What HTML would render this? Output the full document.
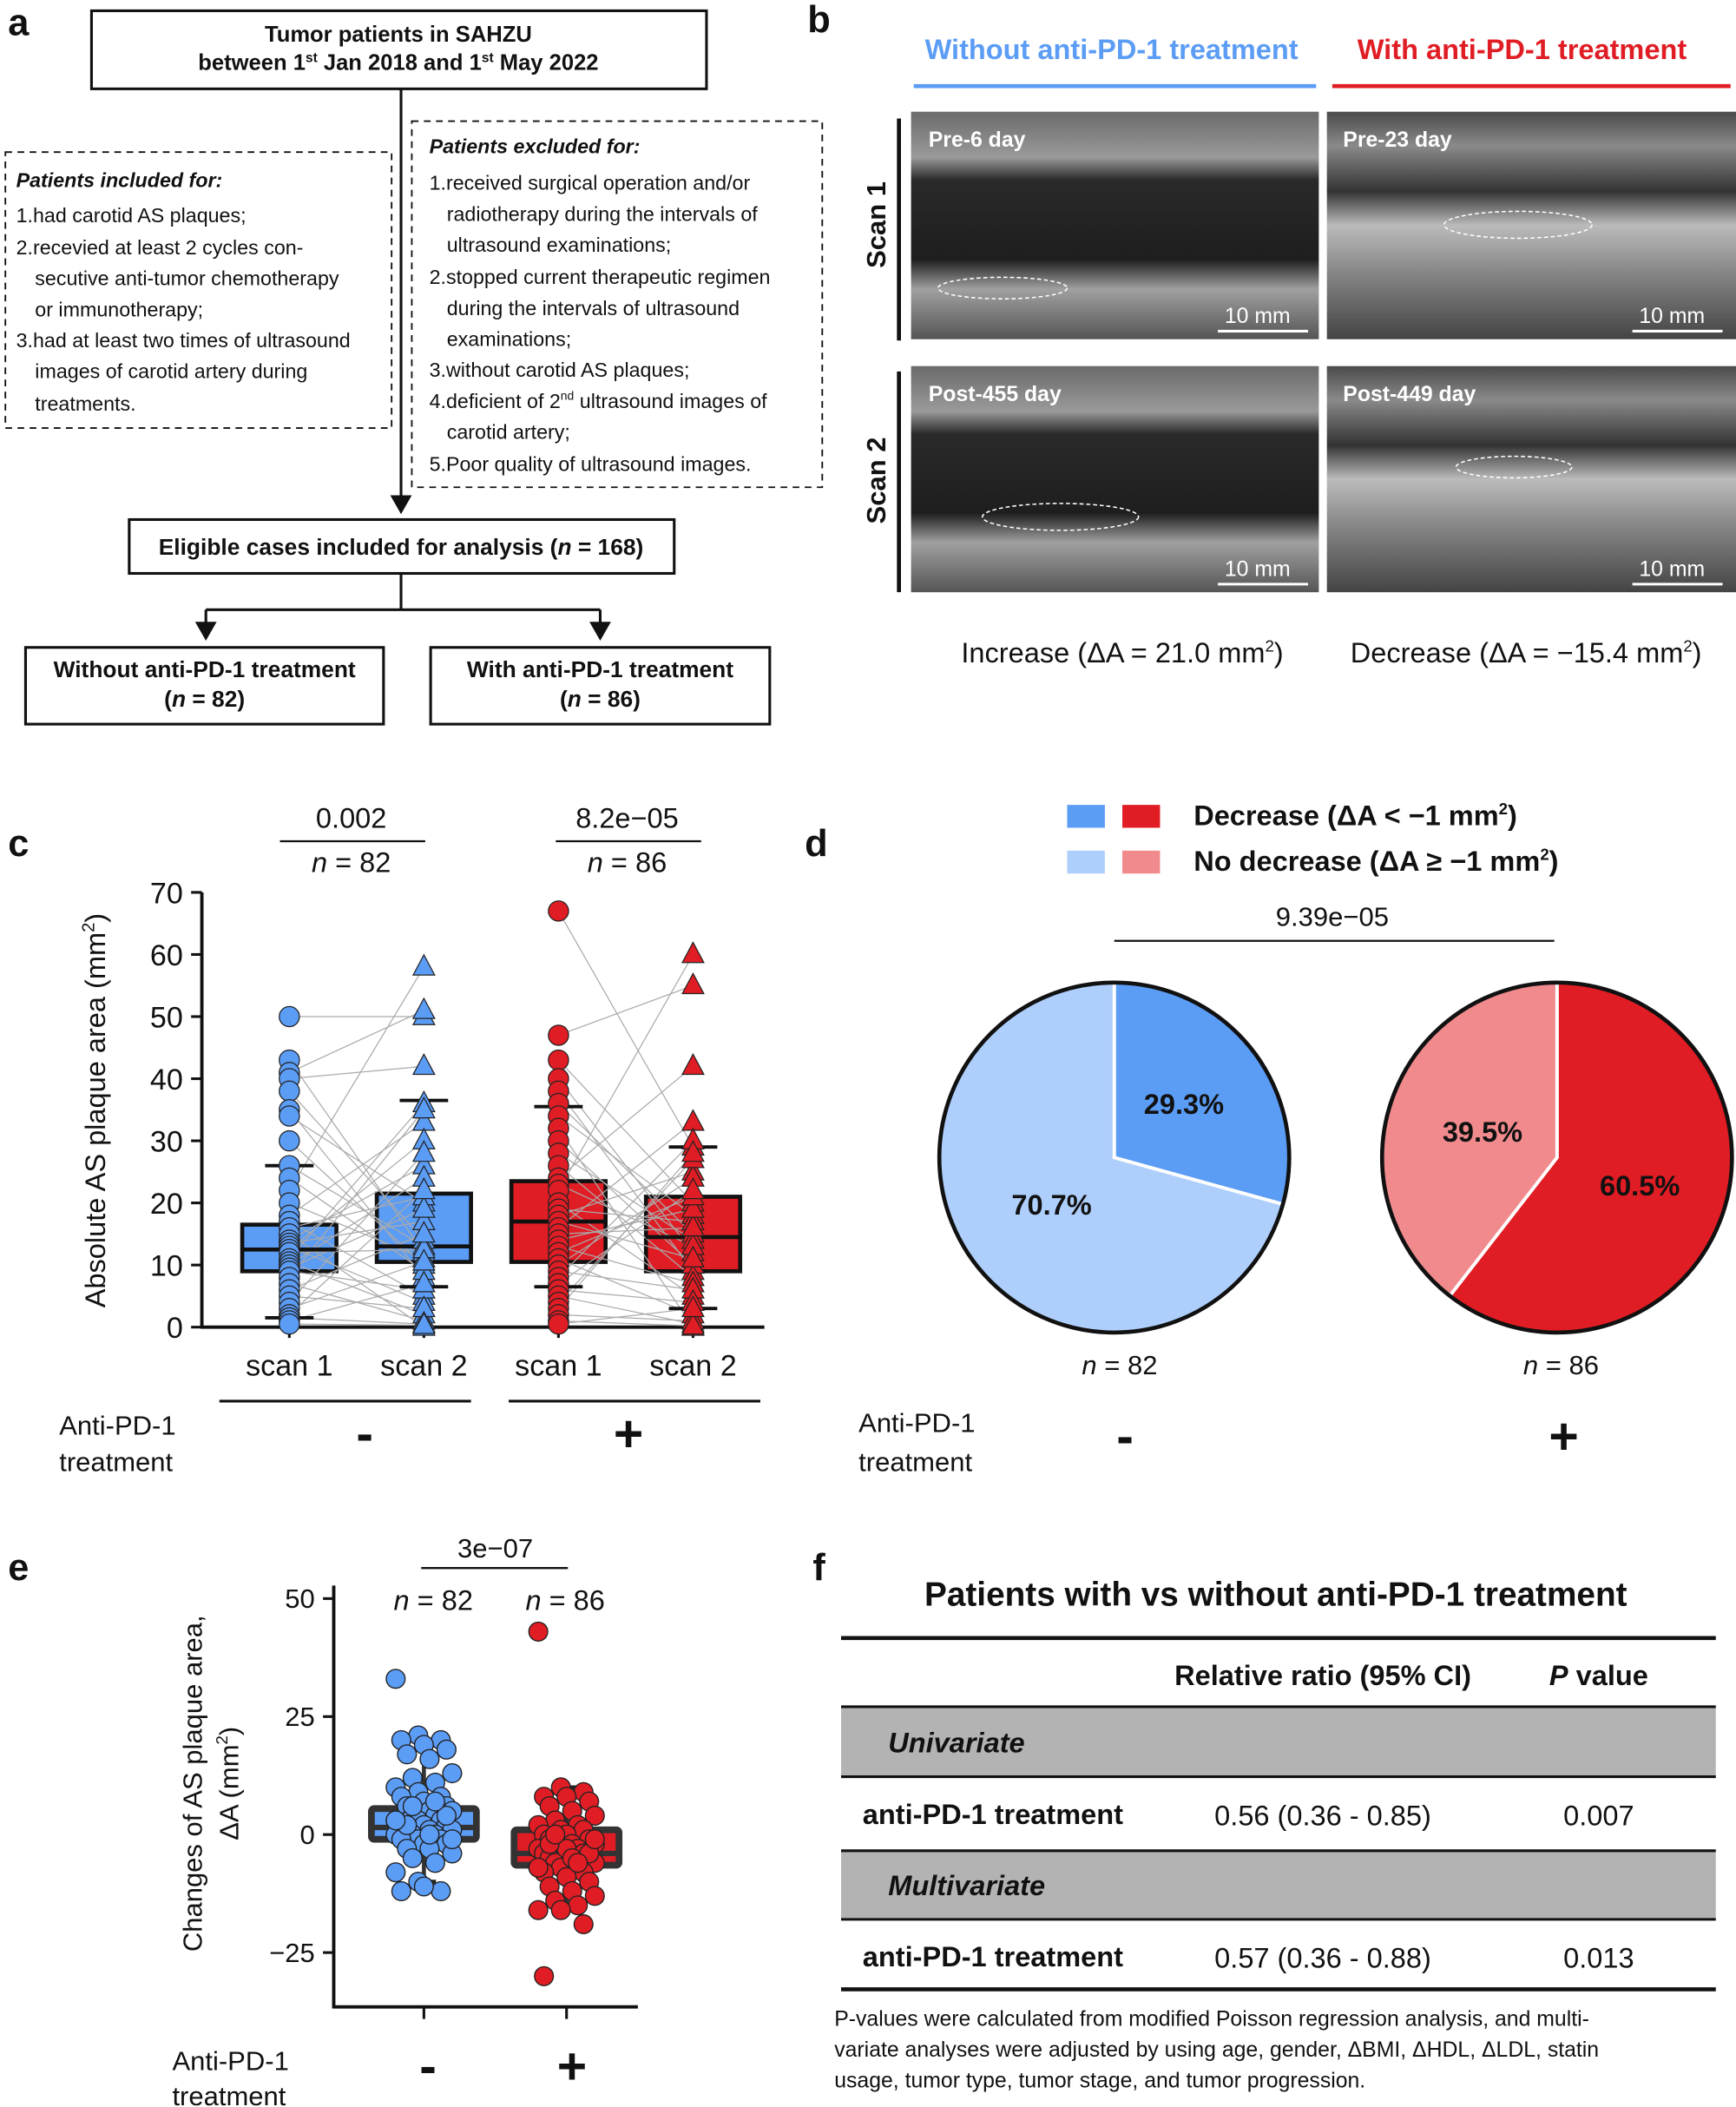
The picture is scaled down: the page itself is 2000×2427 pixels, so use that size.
<!DOCTYPE html>
<html><head><meta charset="utf-8"><style>
html,body{margin:0;padding:0;background:#fff}
svg{display:block}
text{font-family:"Liberation Sans",Arial,sans-serif;fill:#111}
</style></head><body>
<svg id="fig" width="2000" height="2427" viewBox="0 0 1290 1565.4" xmlns="http://www.w3.org/2000/svg">
<defs>
<linearGradient id="us1" x1="0" y1="0" x2="0" y2="1">
<stop offset="0" stop-color="#6a6a6a"/><stop offset="0.2" stop-color="#9a9a9a"/><stop offset="0.3" stop-color="#2a2a2a"/><stop offset="0.65" stop-color="#1e1e1e"/><stop offset="0.78" stop-color="#a0a0a0"/><stop offset="1" stop-color="#555"/></linearGradient>
<linearGradient id="us2" x1="0" y1="0" x2="0" y2="1">
<stop offset="0" stop-color="#4a4a4a"/><stop offset="0.15" stop-color="#8a8a8a"/><stop offset="0.35" stop-color="#333"/><stop offset="0.5" stop-color="#bbb"/><stop offset="0.7" stop-color="#888"/><stop offset="1" stop-color="#444"/></linearGradient>
</defs>

<!-- Panel a -->
<g>
<text x="6" y="26" font-size="28" font-weight="bold">a</text>
<rect x="68" y="8" width="457" height="58" fill="none" stroke="#111" stroke-width="2"/>
<text x="296" y="31" font-size="16.5" font-weight="bold" text-anchor="middle">Tumor patients in SAHZU</text>
<text x="296" y="52" font-size="16.5" font-weight="bold" text-anchor="middle">between 1<tspan font-size="10" dy="-6">st</tspan><tspan dy="6">  Jan 2018 and 1</tspan><tspan font-size="10" dy="-6">st</tspan><tspan dy="6">  May 2022</tspan></text>
<line x1="298" y1="66" x2="298" y2="372" stroke="#111" stroke-width="2"/>
<polygon points="290,368 306,368 298,382" fill="#111"/>
<rect x="4" y="113" width="287" height="205" fill="none" stroke="#111" stroke-width="1.2" stroke-dasharray="5,4"/>
<g font-size="15">
<text x="12" y="139" font-weight="bold" font-style="italic">Patients included for:</text>
<text x="12" y="165">1.had carotid AS plaques;</text>
<text x="12" y="189">2.recevied at least 2 cycles con-</text>
<text x="26" y="212">secutive anti-tumor chemotherapy</text>
<text x="26" y="235">or immunotherapy;</text>
<text x="12" y="258">3.had at least two times of ultrasound</text>
<text x="26" y="281">images of carotid artery during</text>
<text x="26" y="305">treatments.</text>
</g>
<rect x="306" y="90" width="305" height="272" fill="none" stroke="#111" stroke-width="1.2" stroke-dasharray="5,4"/>
<g font-size="15">
<text x="319" y="114" font-weight="bold" font-style="italic">Patients excluded for:</text>
<text x="319" y="141">1.received surgical operation and/or</text>
<text x="332" y="164">radiotherapy during the intervals of</text>
<text x="332" y="187">ultrasound examinations;</text>
<text x="319" y="211">2.stopped current therapeutic regimen</text>
<text x="332" y="234">during the intervals of ultrasound</text>
<text x="332" y="257">examinations;</text>
<text x="319" y="280">3.without carotid AS plaques;</text>
<text x="319" y="303">4.deficient of 2<tspan font-size="9" dy="-6">nd</tspan><tspan dy="6"> ultrasound images of</tspan></text>
<text x="332" y="326">carotid artery;</text>
<text x="319" y="350">5.Poor quality of ultrasound images.</text>
</g>
<rect x="96" y="386" width="405" height="40" fill="none" stroke="#111" stroke-width="2"/>
<text x="298" y="412" font-size="17" font-weight="bold" text-anchor="middle">Eligible cases included for analysis (<tspan font-style="italic">n</tspan> = 168)</text>
<line x1="298" y1="426" x2="298" y2="453" stroke="#111" stroke-width="2"/>
<line x1="153" y1="453" x2="446" y2="453" stroke="#111" stroke-width="2"/>
<line x1="153" y1="453" x2="153" y2="465" stroke="#111" stroke-width="2"/>
<line x1="446" y1="453" x2="446" y2="465" stroke="#111" stroke-width="2"/>
<polygon points="145,462 161,462 153,476" fill="#111"/>
<polygon points="438,462 454,462 446,476" fill="#111"/>
<rect x="19" y="481" width="266" height="57" fill="none" stroke="#111" stroke-width="2"/>
<text x="152" y="503" font-size="17" font-weight="bold" text-anchor="middle">Without anti-PD-1 treatment</text>
<text x="152" y="525" font-size="17" font-weight="bold" text-anchor="middle">(<tspan font-style="italic">n</tspan> = 82)</text>
<rect x="320" y="481" width="252" height="57" fill="none" stroke="#111" stroke-width="2"/>
<text x="446" y="503" font-size="17" font-weight="bold" text-anchor="middle">With anti-PD-1 treatment</text>
<text x="446" y="525" font-size="17" font-weight="bold" text-anchor="middle">(<tspan font-style="italic">n</tspan> = 86)</text>
</g>

<!-- Panel b -->
<g>
<text x="600" y="24" font-size="28" font-weight="bold">b</text>
<text x="826" y="44" font-size="21" font-weight="bold" text-anchor="middle" style="fill:#5b9cf5">Without anti-PD-1 treatment</text>
<text x="1131" y="44" font-size="21" font-weight="bold" text-anchor="middle" style="fill:#e01d24">With anti-PD-1 treatment</text>
<line x1="679" y1="64" x2="978" y2="64" stroke="#5b9cf5" stroke-width="3"/>
<line x1="990" y1="64" x2="1286" y2="64" stroke="#e01d24" stroke-width="3"/>
<text transform="translate(658,167) rotate(-90)" font-size="20" font-weight="bold" text-anchor="middle">Scan 1</text>
<text transform="translate(658,357) rotate(-90)" font-size="20" font-weight="bold" text-anchor="middle">Scan 2</text>
<line x1="668" y1="88" x2="668" y2="253" stroke="#111" stroke-width="3"/>
<line x1="668" y1="276" x2="668" y2="440" stroke="#111" stroke-width="3"/>
<rect x="677" y="83" width="303" height="169" fill="url(#us1)"/>
<rect x="986" y="83" width="304" height="169" fill="url(#us2)"/>
<rect x="677" y="272" width="303" height="168" fill="url(#us1)"/>
<rect x="986" y="272" width="304" height="168" fill="url(#us2)"/>
<ellipse cx="745" cy="214" rx="48" ry="8" fill="none" stroke="#fff" stroke-dasharray="3,2"/>
<ellipse cx="1128" cy="167" rx="55" ry="10" fill="none" stroke="#fff" stroke-dasharray="3,2"/>
<ellipse cx="788" cy="384" rx="58" ry="10" fill="none" stroke="#fff" stroke-dasharray="3,2"/>
<ellipse cx="1125" cy="347" rx="43" ry="8" fill="none" stroke="#fff" stroke-dasharray="3,2"/>
<g font-size="16" font-weight="bold">
<text x="690" y="109" style="fill:#fff">Pre-6 day</text>
<text x="998" y="109" style="fill:#fff">Pre-23 day</text>
<text x="690" y="298" style="fill:#fff">Post-455 day</text>
<text x="998" y="298" style="fill:#fff">Post-449 day</text>
</g>
<g font-size="16">
<text x="910" y="240" style="fill:#fff">10 mm</text><line x1="905" y1="246" x2="972" y2="246" stroke="#fff" stroke-width="2"/>
<text x="1218" y="240" style="fill:#fff">10 mm</text><line x1="1213" y1="246" x2="1280" y2="246" stroke="#fff" stroke-width="2"/>
<text x="910" y="428" style="fill:#fff">10 mm</text><line x1="905" y1="434" x2="972" y2="434" stroke="#fff" stroke-width="2"/>
<text x="1218" y="428" style="fill:#fff">10 mm</text><line x1="1213" y1="434" x2="1280" y2="434" stroke="#fff" stroke-width="2"/>
</g>
<text x="834" y="492" font-size="21" text-anchor="middle">Increase (ΔA = 21.0 mm<tspan font-size="12" dy="-8">2</tspan><tspan dy="8">)</tspan></text>
<text x="1134" y="492" font-size="21" text-anchor="middle">Decrease (ΔA = −15.4 mm<tspan font-size="12" dy="-8">2</tspan><tspan dy="8">)</tspan></text>
</g>

<!-- Panel c -->
<g id="panelC">
<text x="6" y="636" font-size="28" font-weight="bold">c</text>
<text x="261" y="615" font-size="21" text-anchor="middle">0.002</text>
<line x1="208" y1="625" x2="316" y2="625" stroke="#111" stroke-width="1.5"/>
<text x="261" y="648" font-size="21" text-anchor="middle"><tspan font-style="italic">n</tspan> = 82</text>
<text x="466" y="615" font-size="21" text-anchor="middle">8.2e−05</text>
<line x1="413" y1="625" x2="521" y2="625" stroke="#111" stroke-width="1.5"/>
<text x="466" y="648" font-size="21" text-anchor="middle"><tspan font-style="italic">n</tspan> = 86</text>
<text transform="translate(78,825) rotate(-90)" font-size="21" text-anchor="middle">Absolute AS plaque area (mm<tspan font-size="13" dy="-8">2</tspan><tspan dy="8">)</tspan></text>
<g id="cAxis"></g><g id="cMarks"></g>
<g font-size="22" text-anchor="middle">
<text x="215" y="1022">scan 1</text><text x="315" y="1022">scan 2</text>
<text x="415" y="1022">scan 1</text><text x="515" y="1022">scan 2</text>
</g>
<line x1="163" y1="1041" x2="350" y2="1041" stroke="#111" stroke-width="2"/>
<line x1="378" y1="1041" x2="565" y2="1041" stroke="#111" stroke-width="2"/>
<text x="44" y="1066" font-size="20">Anti-PD-1</text>
<text x="44" y="1093" font-size="20">treatment</text>
<text x="271" y="1078" font-size="38" font-weight="bold" text-anchor="middle">-</text>
<text x="467" y="1078" font-size="38" font-weight="bold" text-anchor="middle">+</text>
</g>

<!-- Panel d -->
<g id="panelD">
<text x="598" y="636" font-size="28" font-weight="bold">d</text>
<rect x="793" y="598" width="28" height="17" fill="#5b9cf5"/>
<rect x="834" y="598" width="28" height="17" fill="#e01d24"/>
<rect x="793" y="632" width="28" height="17" fill="#aecffb"/>
<rect x="834" y="632" width="28" height="17" fill="#f08a8c"/>
<text x="887" y="613" font-size="21" font-weight="bold">Decrease (ΔA &lt; −1 mm<tspan font-size="12" dy="-8">2</tspan><tspan dy="8">)</tspan></text>
<text x="887" y="647" font-size="21" font-weight="bold">No decrease (ΔA ≥ −1 mm<tspan font-size="12" dy="-8">2</tspan><tspan dy="8">)</tspan></text>
<text x="990" y="688" font-size="20" text-anchor="middle">9.39e−05</text>
<line x1="828" y1="699" x2="1155" y2="699" stroke="#111" stroke-width="1.5"/>
<g id="dMarks"></g>
<text x="832" y="1021" font-size="20" text-anchor="middle"><tspan font-style="italic">n</tspan> = 82</text>
<text x="1160" y="1021" font-size="20" text-anchor="middle"><tspan font-style="italic">n</tspan> = 86</text>
<text x="638" y="1064" font-size="20">Anti-PD-1</text>
<text x="638" y="1093" font-size="20">treatment</text>
<text x="836" y="1080" font-size="38" font-weight="bold" text-anchor="middle">-</text>
<text x="1162" y="1080" font-size="38" font-weight="bold" text-anchor="middle">+</text>
</g>

<!-- Panel e -->
<g id="panelE">
<text x="6" y="1174" font-size="28" font-weight="bold">e</text>
<text x="368" y="1157" font-size="20" text-anchor="middle">3e−07</text>
<line x1="313" y1="1165" x2="422" y2="1165" stroke="#111" stroke-width="1.5"/>
<text x="322" y="1196" font-size="21" text-anchor="middle"><tspan font-style="italic">n</tspan> = 82</text>
<text x="420" y="1196" font-size="21" text-anchor="middle"><tspan font-style="italic">n</tspan> = 86</text>
<text transform="translate(150,1325) rotate(-90)" font-size="20" text-anchor="middle">Changes of AS plaque area,</text>
<text transform="translate(177,1325) rotate(-90)" font-size="20" text-anchor="middle">ΔA (mm<tspan font-size="12" dy="-8">2</tspan><tspan dy="8">)</tspan></text>
<g id="eAxis"></g><g id="eMarks"></g>
<text x="128" y="1538" font-size="20">Anti-PD-1</text>
<text x="128" y="1564" font-size="20">treatment</text>
<text x="318" y="1548" font-size="38" font-weight="bold" text-anchor="middle">-</text>
<text x="425" y="1548" font-size="38" font-weight="bold" text-anchor="middle">+</text>
</g>

<!-- Panel f -->
<g>
<text x="604" y="1174" font-size="28" font-weight="bold">f</text>
<text x="948" y="1193" font-size="25" font-weight="bold" text-anchor="middle">Patients with vs without anti-PD-1 treatment</text>
<line x1="625" y1="1217" x2="1275" y2="1217" stroke="#111" stroke-width="3"/>
<text x="983" y="1252" font-size="21" font-weight="bold" text-anchor="middle">Relative ratio (95% CI)</text>
<text x="1188" y="1252" font-size="21" font-weight="bold" text-anchor="middle"><tspan font-style="italic">P</tspan> value</text>
<rect x="625" y="1268" width="650" height="52" fill="#b3b3b3"/>
<line x1="625" y1="1268" x2="1275" y2="1268" stroke="#111" stroke-width="2"/>
<line x1="625" y1="1320" x2="1275" y2="1320" stroke="#111" stroke-width="2"/>
<text x="660" y="1302" font-size="21" font-weight="bold" font-style="italic">Univariate</text>
<text x="641" y="1355" font-size="21" font-weight="bold">anti-PD-1 treatment</text>
<text x="983" y="1356" font-size="21" text-anchor="middle">0.56 (0.36 - 0.85)</text>
<text x="1188" y="1356" font-size="21" text-anchor="middle">0.007</text>
<rect x="625" y="1375" width="650" height="51" fill="#b3b3b3"/>
<line x1="625" y1="1375" x2="1275" y2="1375" stroke="#111" stroke-width="2"/>
<line x1="625" y1="1426" x2="1275" y2="1426" stroke="#111" stroke-width="2"/>
<text x="660" y="1408" font-size="21" font-weight="bold" font-style="italic">Multivariate</text>
<text x="641" y="1461" font-size="21" font-weight="bold">anti-PD-1 treatment</text>
<text x="983" y="1462" font-size="21" text-anchor="middle">0.57 (0.36 - 0.88)</text>
<text x="1188" y="1462" font-size="21" text-anchor="middle">0.013</text>
<line x1="625" y1="1478" x2="1275" y2="1478" stroke="#111" stroke-width="3"/>
<g font-size="16">
<text x="620" y="1505">P-values were calculated from modified Poisson regression analysis, and multi-</text>
<text x="620" y="1528">variate analyses were adjusted by using age, gender, ΔBMI, ΔHDL, ΔLDL, statin</text>
<text x="620" y="1551">usage, tumor type, tumor stage, and tumor progression.</text>
</g>
</g>
</svg>
<script>
// ---- Panel c data ----
const cGroups = ["without-scan1","without-scan2","with-scan1","with-scan2"];
const cTicks = [0,10,20,30,40,50,60,70];
const cBoxQ1 = [9, 10.5, 10.5, 9];
const cBoxMed = [12.5, 13, 17, 14.5];
const cBoxQ3 = [16.5, 21.5, 23.5, 21];
const cWhLo = [1.5, 6.5, 6.5, 3];
const cWhHi = [26, 36.5, 35.5, 29];
const blueScan1 = [50,43,41,40,38,35,34,30,26,24,22,20,18,17,16,15,14,13.5,13,12.5,12,11,10.5,10,9.5,9,8,7,6,5,4,3,2,1.5,1,0.5];
const blueScan2 = [50,12,51,42,14,8,20,10,13,9,58,11,33,5,21,0,26,17,4,30,12.5,36,2,24,19,6,35,1,15,3,28,10.5,22,0.5,7,0.3];
const redScan1 = [67,47,43,40,38,36,34,32,30,28,26,24,23,22,20,19,18,17,16,15,14,13,12,11,10,9,8,7,6,5,4,3,2,1,0.5];
const redScan2 = [29,55,20,12,9,15,18,0,10,14,8,42,13,60,5,17,25,11,33,16,19,7,21,2,24,6,30,22,4,0.5,27,28,1,0.2,3];
// ---- Panel d data ----
const pieGroups = ["without","with"];
const pieDecrease = [29.3, 60.5];
const pieNoDecrease = [70.7, 39.5];
// ---- Panel e data ----
const eTicks = [-25,0,25,50];
const eQ1 = [-1, -6.5];
const eMed = [1.5, -4];
const eQ3 = [5.5, 1];
const eLo = [-10, -16];
const eHi = [15, 10];
const deltaBlue = [33,21,20,20,19,18,17,16,13,12,11,10,9,8,8,7,6,6,5,5,4,4,3,3,3,2,2,2,1,1,1,0,0,0,-1,-1,-1,-2,-2,-3,-3,-4,-5,-6,-8,-10,-12,-12,-11,4,2,0,-1,6,7,3];
const deltaRed = [43,10,9,8,8,7,6,5,4,3,2,2,1,1,0,0,-1,-1,-2,-2,-2,-3,-3,-3,-4,-4,-4,-5,-5,-5,-6,-6,-6,-7,-7,-8,-8,-9,-10,-11,-12,-13,-14,-15,-16,-16,-19,-30,-3,-4,-2,-5,-1,0,-6,-7];

const NS="http://www.w3.org/2000/svg";
function mk(tag,attrs,parent){const e=document.createElementNS(NS,tag);for(const k in attrs)e.setAttribute(k,attrs[k]);parent.appendChild(e);return e;}

// Panel c
(function(){
  const ax=document.getElementById('cAxis'), mg=document.getElementById('cMarks');
  const y=v=>986-v*(323/70);
  const xs=[215,315,415,515];
  mk('line',{x1:150,y1:663,x2:150,y2:987,stroke:'#111','stroke-width':2.5},ax);
  mk('line',{x1:149,y1:986,x2:568,y2:986,stroke:'#111','stroke-width':2.5},ax);
  cTicks.forEach(t=>{mk('line',{x1:142,y1:y(t),x2:150,y2:y(t),stroke:'#111','stroke-width':2},ax);
    const tx=mk('text',{x:136,y:y(t)+8,'font-size':22,'text-anchor':'end'},ax);tx.textContent=t;});
  xs.forEach(x=>mk('line',{x1:x,y1:986,x2:x,y2:994,stroke:'#111','stroke-width':2},ax));
  const fills=['#5b9cf5','#5b9cf5','#e01d24','#e01d24'];
  cGroups.forEach((g,i)=>{
    const b=mk('rect',{x:xs[i]-35,y:y(cBoxQ3[i]),width:70,height:y(cBoxQ1[i])-y(cBoxQ3[i]),fill:fills[i],stroke:'#111','stroke-width':3},mg);
    
    
  });
  const pairs=[[blueScan1,blueScan2,0],[redScan1,redScan2,2]];
  pairs.forEach(([a,bb,i])=>{a.forEach((v,k)=>{if(bb[k]!==undefined){const l=mk('line',{x1:xs[i],y1:y(v),x2:xs[i+1],y2:y(bb[k]),stroke:'#aaa','stroke-width':0.8},mg);
    
    }});});
  cGroups.forEach((g,i)=>{
    mk('line',{x1:xs[i],y1:y(cWhHi[i]),x2:xs[i],y2:y(cWhLo[i]),stroke:'#111','stroke-width':2.5},mg);
    [cWhHi[i],cWhLo[i]].forEach(v=>mk('line',{x1:xs[i]-18,y1:y(v),x2:xs[i]+18,y2:y(v),stroke:'#111','stroke-width':2.5},mg));
    mk('line',{x1:xs[i]-35,y1:y(cBoxMed[i]),x2:xs[i]+35,y2:y(cBoxMed[i]),stroke:'#111','stroke-width':3},mg);
  });
  [[blueScan1,0,'c'],[blueScan2,1,'t'],[redScan1,2,'c'],[redScan2,3,'t']].forEach(([arr,i,sh])=>{
    arr.forEach(v=>{let p;const cy=y(v),cx=xs[i];
      if(sh==='c') p=mk('circle',{cx:cx,cy:cy,r:7.5,fill:fills[i],stroke:'#222','stroke-width':0.8},mg);
      else p=mk('polygon',{points:`${cx-8},${cy+6} ${cx+8},${cy+6} ${cx},${cy-9}`,fill:fills[i],stroke:'#222','stroke-width':0.8},mg);
      
      });
  });
})();

// Panel d
(function(){
  const g=document.getElementById('dMarks');
  const cxs=[828,1157], cy=860, r=130;
  const dark=['#5b9cf5','#e01d24'], light=['#aecffb','#f08a8c'];
  function pt(cx,f){const a=f*2*Math.PI;return [cx+r*Math.sin(a),cy-r*Math.cos(a)];}
  pieGroups.forEach((gr,i)=>{
    const cx=cxs[i], f=pieDecrease[i]/100;
    const [x1,y1]=pt(cx,f);
    const big=f>0.5?1:0;
    const s1=mk('path',{d:`M${cx},${cy} L${cx},${cy-r} A${r},${r} 0 ${big} 1 ${x1},${y1} Z`,fill:dark[i],stroke:'#fff','stroke-width':2.5},g);
    
    
    const f2=pieNoDecrease[i]/100;
    const s2=mk('path',{d:`M${cx},${cy} L${x1},${y1} A${r},${r} 0 ${f2>0.5?1:0} 1 ${cx},${cy-r} Z`,fill:light[i],stroke:'#fff','stroke-width':2.5},g);
    
    
    mk('circle',{cx:cx,cy:cy,r:r,fill:'none',stroke:'#111','stroke-width':3},g);
    const [lx,ly]=pt(cx,f/2),[mx,my]=pt(cx,f+f2/2);
    const t1=mk('text',{x:cx+(lx-cx)*0.5,y:cy+(ly-cy)*0.5+7,'font-size':21,'font-weight':'bold','text-anchor':'middle'},g);t1.textContent=pieDecrease[i].toFixed(1)+'%';
    const t2=mk('text',{x:cx+(mx-cx)*0.45,y:cy+(my-cy)*0.45+7,'font-size':21,'font-weight':'bold','text-anchor':'middle'},g);t2.textContent=pieNoDecrease[i].toFixed(1)+'%';
  });
})();

// Panel e
(function(){
  const ax=document.getElementById('eAxis'), mg=document.getElementById('eMarks');
  const y=v=>1363-v*(263/75);
  const xs=[315,421];
  mk('line',{x1:248,y1:1178,x2:248,y2:1492,stroke:'#111','stroke-width':2.5},ax);
  mk('line',{x1:247,y1:1491,x2:474,y2:1491,stroke:'#111','stroke-width':2.5},ax);
  eTicks.forEach(t=>{mk('line',{x1:240,y1:y(t),x2:248,y2:y(t),stroke:'#111','stroke-width':2},ax);
    const tx=mk('text',{x:234,y:y(t)+7,'font-size':20,'text-anchor':'end'},ax);tx.textContent=t<0?'−'+(-t):t;});
  xs.forEach(x=>mk('line',{x1:x,y1:1491,x2:x,y2:1500,stroke:'#111','stroke-width':2},ax));
  const fills=['#5b9cf5','#e01d24'];
  ['without','with'].forEach((g,i)=>{
    const x=xs[i];
    mk('line',{x1:x,y1:y(eHi[i]),x2:x,y2:y(eLo[i]),stroke:'#333','stroke-width':3},mg);
    [eHi[i],eLo[i]].forEach(v=>mk('line',{x1:x,y1:y(v),x2:x+9,y2:y(v),stroke:'#222','stroke-width':3},mg));
    const b=mk('rect',{x:x-39,y:y(eQ3[i]),width:78,height:y(eQ1[i])-y(eQ3[i]),fill:fills[i],stroke:'#333','stroke-width':5,rx:2},mg);
    
    
    mk('line',{x1:x-37,y1:y(eMed[i]),x2:x+37,y2:y(eMed[i]),stroke:'#333','stroke-width':4},mg);
  });
  [[deltaBlue,0],[deltaRed,1]].forEach(([arr,i])=>{
    arr.forEach((v,k)=>{const jit=((k*37)%11-5)*4.2;
      const p=mk('circle',{cx:xs[i]+jit,cy:y(v),r:7,fill:fills[i],stroke:'#222','stroke-width':0.9},mg);
      
      });
  });
})();
</script>
</body></html>
